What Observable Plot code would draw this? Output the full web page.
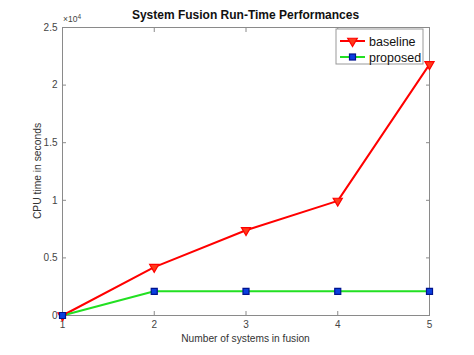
<!DOCTYPE html>
<html><head><meta charset="utf-8">
<script src="https://cdn.jsdelivr.net/npm/d3@7"></script>
<script src="https://cdn.jsdelivr.net/npm/@observablehq/plot@0.6"></script>
<style>
body{margin:0;background:#fff;}
#chart{position:relative;width:474px;height:355px;}
svg{font-family:"Liberation Sans",Arial,sans-serif;}
</style>
</head><body><div id="chart"></div>
<script>
const systems = [1, 2, 3, 4, 5];
const baseline = [0, 4200, 7400, 9950, 21800];
const proposed = [0, 2100, 2100, 2100, 2100];
const yTicks = [0, 5000, 10000, 15000, 20000, 25000];
const xTicks = [1, 2, 3, 4, 5];
const series = ["baseline", "proposed"];
const title = "System Fusion Run-Time Performances";
const xLabel = "Number of systems in fusion";
const yLabel = "CPU time in seconds";

const colors = {baseline: "#ff0000", proposed: "#22e022"};
const data = [];
systems.forEach((s, i) => {
  data.push({series: "baseline", x: s, y: baseline[i]});
  data.push({series: "proposed", x: s, y: proposed[i]});
});
const fmtY = d => String(d / 10000);
const axisColor = "#8a8a8a";

const plot = Plot.plot({
  width: 474, height: 355,
  marginLeft: 62, marginRight: 45, marginTop: 27, marginBottom: 40,
  style: {fontFamily: "Liberation Sans, Arial, sans-serif", fontSize: "10px", color: "#333", background: "#fff"},
  x: {domain: [1, 5]},
  y: {domain: [0, 25000]},
  marks: [
    Plot.frame({stroke: axisColor}),
    Plot.axisX({ticks: xTicks, tickSize: -4, tickPadding: 9, tickFormat: d => String(d), label: null, stroke: axisColor, color: "#444"}),
    Plot.axisX({anchor: "top", ticks: xTicks, tickSize: -4, tickFormat: () => "", label: null, stroke: axisColor}),
    Plot.axisY({ticks: yTicks, tickSize: -4, tickPadding: 9, tickFormat: fmtY, label: null, stroke: axisColor, color: "#444"}),
    Plot.axisY({anchor: "right", ticks: yTicks, tickSize: -4, tickFormat: () => "", label: null, stroke: axisColor}),
    Plot.line(data, {x: "x", y: "y", z: "series", stroke: d => colors[d.series], strokeWidth: 2}),
    Plot.dot(data.filter(d => d.series === "baseline"), {x: "x", y: "y", symbol: "triangle", rotate: 180, r: 3.4, fill: "#ff3a1a", stroke: "#ff0000", strokeWidth: 1.2}),
    Plot.dot(data.filter(d => d.series === "proposed"), {x: "x", y: "y", symbol: "square", r: 3.4, fill: "#0a3fe0", stroke: "#00138f", strokeWidth: 1.2})
  ]
});
document.getElementById("chart").appendChild(plot);

const svg = d3.select(plot);
const W = 474, H = 355, mL = 62, mR = 45, mT = 27, mB = 40;
const cx = (mL + W - mR) / 2;
svg.append("text").attr("x", cx).attr("y", 19).attr("text-anchor", "middle")
  .attr("font-weight", "bold").attr("font-size", 12).attr("fill", "#111").text(title);
svg.append("text").attr("x", cx).attr("y", 342).attr("text-anchor", "middle")
  .attr("font-size", 10.2).attr("fill", "#333").text(xLabel);
svg.append("text").attr("transform", `translate(41,${(mT + H - mB) / 2}) rotate(-90)`).attr("text-anchor", "middle")
  .attr("font-size", 10.3).attr("fill", "#333").text(yLabel);
const ex = svg.append("text").attr("x", 63).attr("y", 22).attr("text-anchor", "start").attr("font-size", 8.5).attr("fill", "#444");
ex.append("tspan").text("\u00d710");
ex.append("tspan").attr("dy", -3).attr("font-size", 6.5).text("4");

// legend
const lg = svg.append("g").attr("transform", "translate(336,29)");
lg.append("rect").attr("width", 87).attr("height", 35).attr("fill", "#fff").attr("stroke", "#999");
series.forEach((s, i) => {
  const y = 12 + i * 16;
  lg.append("line").attr("x1", 4).attr("x2", 29).attr("y1", y).attr("y2", y).attr("stroke", colors[s]).attr("stroke-width", 2);
  if (s === "baseline") {
    lg.append("path").attr("d", d3.symbol(d3.symbolTriangle, 40)()).attr("transform", `translate(16.5,${y}) rotate(180)`)
      .attr("fill", "#ff3a1a").attr("stroke", "#ff0000").attr("stroke-width", 1.2);
  } else {
    lg.append("rect").attr("x", 13.5).attr("y", y - 3).attr("width", 6).attr("height", 6)
      .attr("fill", "#0a3fe0").attr("stroke", "#00138f").attr("stroke-width", 1.2);
  }
  lg.append("text").attr("x", 33).attr("y", y + 4.5).attr("text-anchor", "start").attr("font-size", 12.5).attr("fill", "#111").text(s);
});
</script>
</body></html>
